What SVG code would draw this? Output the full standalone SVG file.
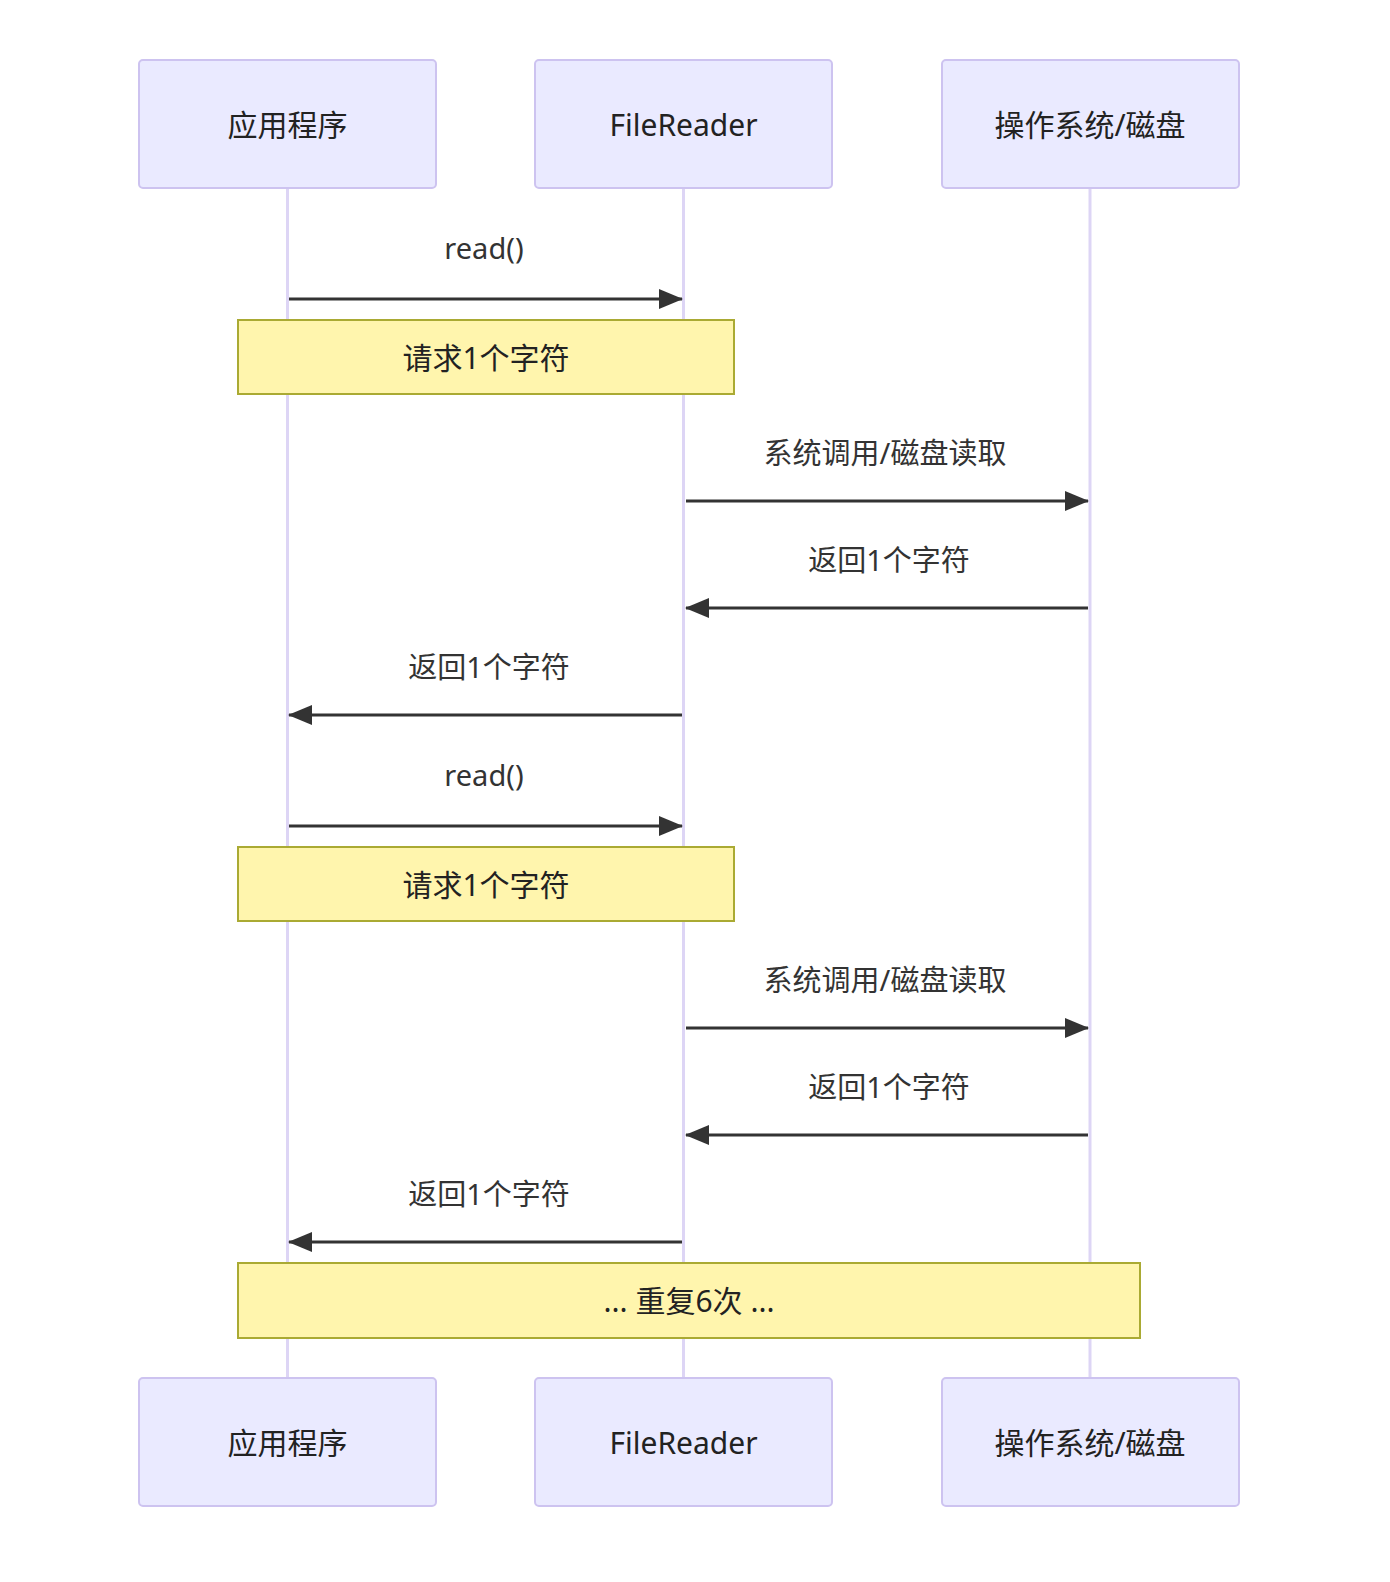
<svg xmlns="http://www.w3.org/2000/svg" width="1390" height="1582" viewBox="0 0 1390 1582">
<style>
.actor{fill:#eaeaff;stroke:#cdc3f0;stroke-width:2}
.life{stroke:#ddd5f5;stroke-width:3}
.t{font-family:"Noto Sans","Noto Sans CJK SC",sans-serif;fill:#222;text-anchor:middle;dominant-baseline:central}
.at{font-size:30px}
.mt{font-size:29px;fill:#333}
.msg{stroke:#333;stroke-width:3;fill:none}
.note{fill:#fff5ad;stroke:#aaaa33;stroke-width:2}
</style>
<defs>
<marker id="ah" viewBox="0 0 10 10" refX="9" refY="5" markerWidth="8" markerHeight="8" markerUnits="userSpaceOnUse" orient="auto">
<path d="M0 0L10 5L0 10z" fill="#333" transform="scale(1)"/>
</marker>
<marker id="a2" viewBox="0 0 24 20" refX="23" refY="10" markerWidth="24" markerHeight="20" markerUnits="userSpaceOnUse" orient="auto"><path d="M0 0L24 10L0 20z" fill="#333"/></marker>
</defs>
<g id="lifelines">
<line class="life" x1="287.5" y1="188" x2="287.5" y2="1378"/>
<line class="life" x1="683.5" y1="188" x2="683.5" y2="1378"/>
<line class="life" x1="1090" y1="188" x2="1090" y2="1378"/>
</g>
<g id="actor-app-top"><rect class="actor" x="139" y="60" width="297" height="128" rx="4"/><text class="t at" x="287.5" y="124">应用程序</text></g>
<g id="actor-fr-top"><rect class="actor" x="535" y="60" width="297" height="128" rx="4"/><text class="t at" x="683.5" y="124">FileReader</text></g>
<g id="actor-os-top"><rect class="actor" x="942" y="60" width="297" height="128" rx="4"/><text class="t at" x="1090" y="124">操作系统/磁盘</text></g>
<g id="actor-app-bot"><rect class="actor" x="139" y="1378" width="297" height="128" rx="4"/><text class="t at" x="287.5" y="1442">应用程序</text></g>
<g id="actor-fr-bot"><rect class="actor" x="535" y="1378" width="297" height="128" rx="4"/><text class="t at" x="683.5" y="1442">FileReader</text></g>
<g id="actor-os-bot"><rect class="actor" x="942" y="1378" width="297" height="128" rx="4"/><text class="t at" x="1090" y="1442">操作系统/磁盘</text></g>
<g id="notes">
<g id="note1"><rect class="note" x="238" y="320" width="496" height="74"/><text class="t at" x="486" y="357">请求1个字符</text></g>
<g id="note2"><rect class="note" x="238" y="847" width="496" height="74"/><text class="t at" x="486" y="884">请求1个字符</text></g>
<g id="note3"><rect class="note" x="238" y="1263" width="902" height="75"/><text class="t at" x="689" y="1300">... 重复6次 ...</text></g>
</g>
<g id="connectors">
<line class="msg" x1="289" y1="299" x2="682" y2="299" marker-end="url(#a2)"/>
<line class="msg" x1="686" y1="501" x2="1088" y2="501" marker-end="url(#a2)"/>
<line class="msg" x1="1088" y1="608" x2="686" y2="608" marker-end="url(#a2)"/>
<line class="msg" x1="682" y1="715" x2="289" y2="715" marker-end="url(#a2)"/>
<line class="msg" x1="289" y1="826" x2="682" y2="826" marker-end="url(#a2)"/>
<line class="msg" x1="686" y1="1028" x2="1088" y2="1028" marker-end="url(#a2)"/>
<line class="msg" x1="1088" y1="1135" x2="686" y2="1135" marker-end="url(#a2)"/>
<line class="msg" x1="682" y1="1242" x2="289" y2="1242" marker-end="url(#a2)"/>
</g>
<g id="labels">
<text class="t mt" x="484" y="247">read()</text>
<text class="t mt" x="885" y="452">系统调用/磁盘读取</text>
<text class="t mt" x="889" y="559">返回1个字符</text>
<text class="t mt" x="489" y="666">返回1个字符</text>
<text class="t mt" x="484" y="774">read()</text>
<text class="t mt" x="885" y="979">系统调用/磁盘读取</text>
<text class="t mt" x="889" y="1086">返回1个字符</text>
<text class="t mt" x="489" y="1193">返回1个字符</text>
</g>
</svg>
